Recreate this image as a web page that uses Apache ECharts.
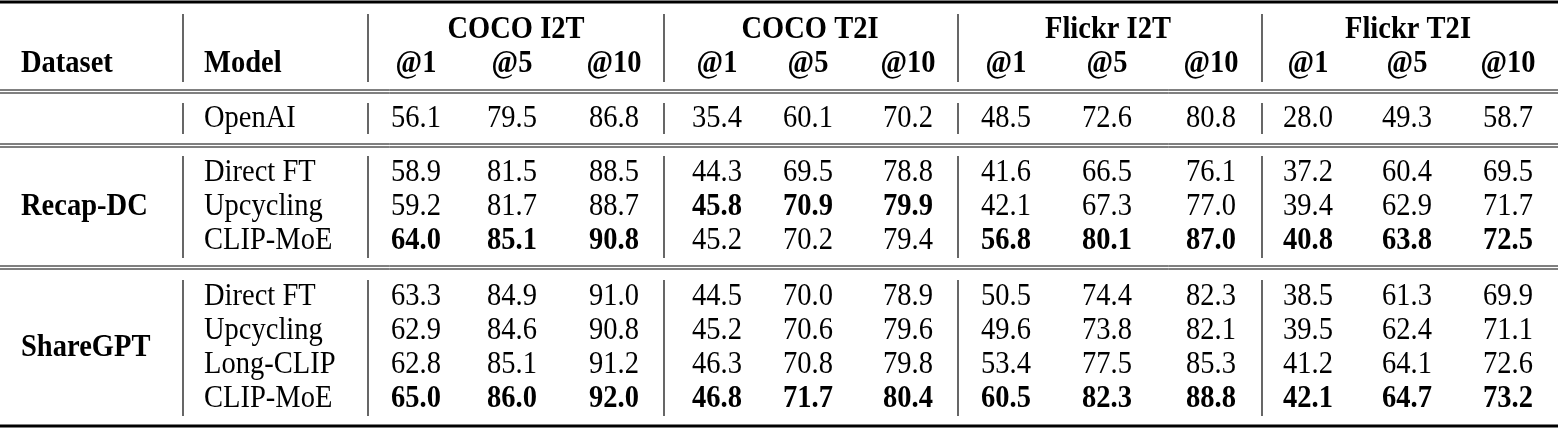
<!DOCTYPE html>
<html><head><meta charset="utf-8">
<script src="https://cdn.jsdelivr.net/npm/echarts@6/dist/echarts.min.js"></script>
<style>html,body{margin:0;padding:0;background:#fff}#c{width:1558px;height:429px}</style>
</head><body><div id="c"></div>
<script>
const groups = ['COCO I2T','COCO T2I','Flickr I2T','Flickr T2I'];
const ks = ['@1','@5','@10'];
const datasets = ['', 'Recap-DC', 'ShareGPT'];
const models = [['OpenAI'], ['Direct FT','Upcycling','CLIP-MoE'], ['Direct FT','Upcycling','Long-CLIP','CLIP-MoE']];
const values = [
  [[56.1,79.5,86.8,35.4,60.1,70.2,48.5,72.6,80.8,28.0,49.3,58.7]],
  [[58.9,81.5,88.5,44.3,69.5,78.8,41.6,66.5,76.1,37.2,60.4,69.5],
   [59.2,81.7,88.7,45.8,70.9,79.9,42.1,67.3,77.0,39.4,62.9,71.7],
   [64.0,85.1,90.8,45.2,70.2,79.4,56.8,80.1,87.0,40.8,63.8,72.5]],
  [[63.3,84.9,91.0,44.5,70.0,78.9,50.5,74.4,82.3,38.5,61.3,69.9],
   [62.9,84.6,90.8,45.2,70.6,79.6,49.6,73.8,82.1,39.5,62.4,71.1],
   [62.8,85.1,91.2,46.3,70.8,79.8,53.4,77.5,85.3,41.2,64.1,72.6],
   [65.0,86.0,92.0,46.8,71.7,80.4,60.5,82.3,88.8,42.1,64.7,73.2]]
];
// layout
const colX = [416,512,614,717,808,908,1006,1107,1211,1308,1407,1508];
const groupX = [516,810,1108,1408];
const vLines = [183,368,664,958,1262];
const blockRows = [[118],[172,206,240],[296,330,364,398]];
const blockSpan = [[103,134],[156,258],[280,416]];
const hRules = [[2,3],[90,1],[93,1],[144,1],[147,1],[266,1],[269,1],[426,3]];

const texts = [];
texts.push({x:21,y:63,t:'Dataset',b:true,a:'left'});
texts.push({x:204,y:63,t:'Model',b:true,a:'left'});
groups.forEach((g,i)=>texts.push({x:groupX[i],y:29,t:g,b:true,a:'center'}));
colX.forEach((x,i)=>texts.push({x:x,y:63,t:ks[i%3],b:true,a:'center'}));
values.forEach((blk,bi)=>{
  const rows = blockRows[bi];
  const mx = colX.map((_,c)=>Math.max(...blk.map(r=>r[c])));
  if(datasets[bi]) texts.push({x:21,y:(rows[0]+rows[rows.length-1])/2,t:datasets[bi],b:true,a:'left'});
  blk.forEach((r,ri)=>{
    texts.push({x:204,y:rows[ri],t:models[bi][ri],b:false,a:'left'});
    r.forEach((v,c)=>texts.push({x:colX[c],y:rows[ri],t:v.toFixed(1),b:blk.length>1&&v===mx[c],a:'center'}));
  });
});
const lines = [];
hRules.forEach(h=>lines.push({x1:0,y1:h[0],x2:1558,y2:h[0],w:h[1]}));
const vSpans=[[14,82]].concat(blockSpan);
vSpans.forEach(s=>vLines.forEach(x=>lines.push({x1:x,y1:s[0],x2:x,y2:s[1],w:1.2})));

const chart = echarts.init(document.getElementById('c'));
chart.setOption({
  animation:false,
  grid:{left:0,right:0,top:0,bottom:0},
  xAxis:{type:'value',min:0,max:1558,show:false},
  yAxis:{type:'value',min:0,max:429,inverse:true,show:false},
  series:[
    {type:'custom',data:lines.map(l=>[l.x1,l.y1,l.x2,l.y2,l.w]),
     renderItem:(p,api)=>{const a=api.coord([api.value(0),api.value(1)]),b=api.coord([api.value(2),api.value(3)]);
       return {type:'line',shape:{x1:a[0],y1:a[1],x2:b[0],y2:b[1]},style:{stroke:'#000',lineWidth:api.value(4)}};}},
    {type:'custom',data:texts.map(t=>[t.x,t.y]),
     renderItem:(p,api)=>{const d=texts[p.dataIndex];const a=api.coord([api.value(0),api.value(1)]);
       return {type:'text',x:a[0],y:a[1]+1,scaleX:0.92,style:{text:d.t,x:0,y:0,fill:'#000',align:d.a,verticalAlign:'middle',
         fontFamily:'Liberation Serif',fontSize:31,fontWeight:d.b?'bold':'normal'}};}}
  ]
});
</script></body></html>
